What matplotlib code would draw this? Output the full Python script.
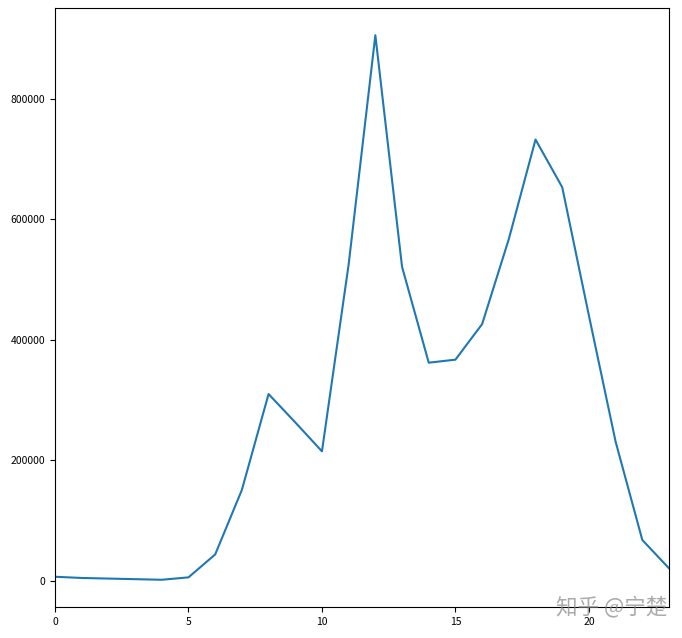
import matplotlib
matplotlib.use("Agg")
import matplotlib.pyplot as plt

plt.rcParams['font.family'] = ['Noto Sans CJK SC', 'DejaVu Sans']

hours = list(range(24))
counts = [7000, 5000, 4000, 3000, 2000, 6000, 44000, 151000, 310000, 263000,
          215000, 525000, 905000, 521000, 362000, 367000, 426000, 567000,
          732000, 653000, 440000, 231000, 68000, 21000]

fig = plt.figure(figsize=(6.82, 6.38), dpi=100)
ax = fig.add_axes([55/682, 31/638, 614/682, 599/638])
ax.plot(hours, counts, color='#1f77b4', linewidth=1.5)
ax.set_xlim(0, 23)
ax.set_xticks([0, 5, 10, 15, 20])
ax.set_yticks([0, 200000, 400000, 600000, 800000])
ax.tick_params(labelsize=7.5, length=3.5)

fig.text(612/682, 1 - 607/638, '知乎 @宁楚', fontsize=15.5, color='#888888',
         alpha=0.7, ha='center', va='center')

fig.savefig('out.png', dpi=100)
